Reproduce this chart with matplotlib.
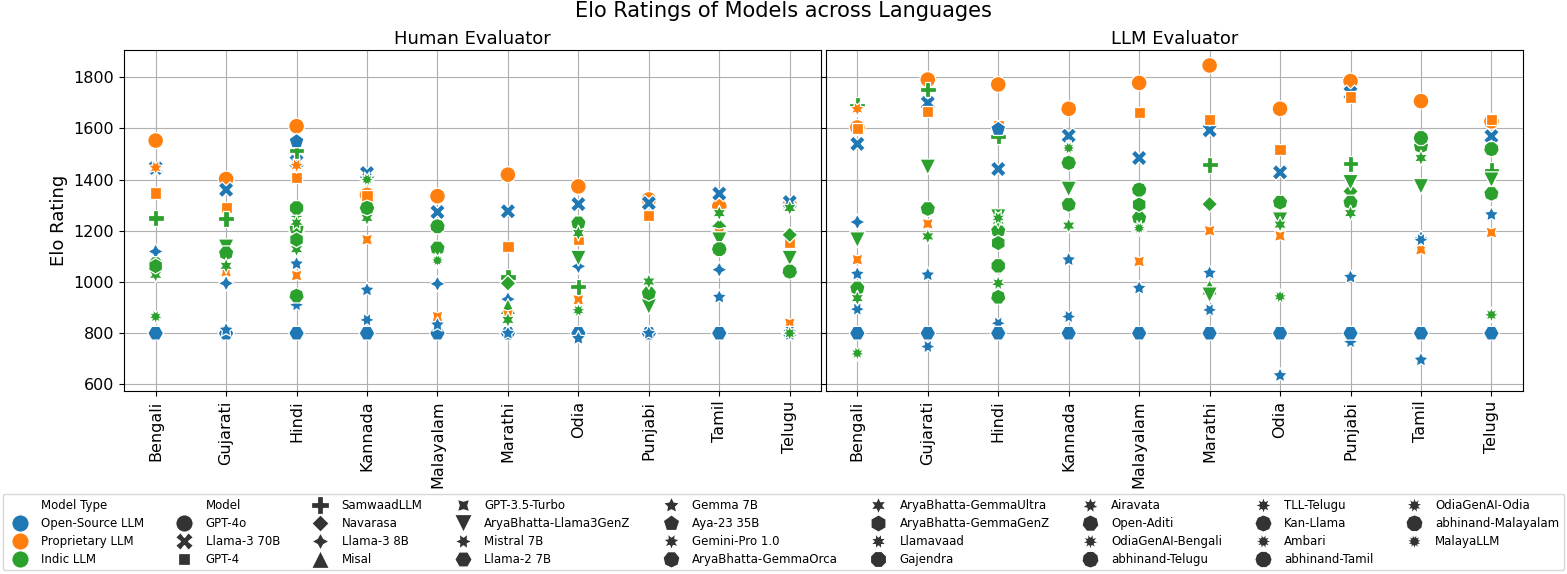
import numpy as np
import pandas as pd
import matplotlib
matplotlib.use("Agg")
import matplotlib.pyplot as plt
import seaborn as sns

nan = np.nan

languages = ["Bengali", "Gujarati", "Hindi", "Kannada", "Malayalam",
             "Marathi", "Odia", "Punjabi", "Tamil", "Telugu"]

models = ["GPT-4o", "Llama-3 70B", "GPT-4", "SamwaadLLM", "Navarasa",
          "Llama-3 8B", "Misal", "GPT-3.5-Turbo", "AryaBhatta-Llama3GenZ",
          "Mistral 7B", "Llama-2 7B", "Gemma 7B", "Aya-23 35B",
          "Gemini-Pro 1.0", "AryaBhatta-GemmaOrca", "AryaBhatta-GemmaUltra",
          "AryaBhatta-GemmaGenZ", "Llamavaad", "Gajendra", "Airavata",
          "Open-Aditi", "OdiaGenAI-Bengali", "abhinand-Telugu", "TLL-Telugu",
          "Kan-Llama", "Ambari", "abhinand-Tamil", "OdiaGenAI-Odia",
          "abhinand-Malayalam", "MalayaLLM"]

model_types = ["Proprietary LLM", "Open-Source LLM", "Proprietary LLM", "Indic LLM",
               "Indic LLM", "Open-Source LLM", "Indic LLM", "Proprietary LLM",
               "Indic LLM", "Open-Source LLM", "Open-Source LLM", "Open-Source LLM",
               "Open-Source LLM", "Proprietary LLM", "Indic LLM", "Indic LLM",
               "Indic LLM", "Indic LLM", "Indic LLM", "Indic LLM", "Indic LLM",
               "Indic LLM", "Indic LLM", "Indic LLM", "Indic LLM", "Indic LLM",
               "Indic LLM", "Indic LLM", "Indic LLM", "Indic LLM"]

type_order = ["Open-Source LLM", "Proprietary LLM", "Indic LLM"]

# rows follow `models`, columns follow `languages`
human_elo = [
    [1552, 1402, 1608, 1340, 1335, 1419, 1373, 1322, 1295, 1300],  # GPT-4o
    [1445, 1360, 1470, 1425, 1273, 1276, 1304, 1308, 1345, 1312],  # Llama-3 70B
    [1347, 1290, 1408, 1336, nan, 1139, 1167, 1259, nan, 1154],    # GPT-4
    [1250, 1247, 1512, nan, nan, 1020, 982, nan, nan, nan],        # SamwaadLLM
    [nan, nan, 1200, nan, nan, 995, nan, nan, 1217, 1184],         # Navarasa
    [1119, 995, nan, nan, 993, 933, 1061, nan, 1048, nan],         # Llama-3 8B
    [nan, nan, nan, nan, nan, 904, nan, nan, nan, nan],            # Misal
    [nan, 1040, 1025, 1165, 865, 872, 930, nan, 1191, 839],        # GPT-3.5-Turbo
    [nan, 1137, nan, nan, nan, nan, 1093, 904, 1165, 1093],        # AryaBhatta-Llama3GenZ
    [800, 800, 911, 852, 800, 800, 800, 800, 800, 800],            # Mistral 7B
    [800, 800, 800, 800, 800, 800, 800, 800, 800, 800],            # Llama-2 7B
    [nan, 813, 1071, 969, 833, 800, 780, 800, 941, 795],           # Gemma 7B
    [nan, nan, 1549, nan, nan, nan, nan, nan, nan, nan],           # Aya-23 35B
    [1447, nan, 1455, nan, nan, nan, nan, nan, nan, nan],          # Gemini-Pro 1.0
    [1071, 1113, 1210, nan, 1132, nan, 1230, 956, nan, nan],       # AryaBhatta-GemmaOrca
    [1028, 1063, 1128, 1250, nan, 852, 1191, 1002, 1269, 1289],    # AryaBhatta-GemmaUltra
    [1062, nan, 1165, nan, nan, nan, nan, nan, nan, nan],          # AryaBhatta-GemmaGenZ
    [nan, nan, 1262, nan, nan, nan, nan, nan, nan, nan],           # Llamavaad
    [nan, nan, 1289, nan, nan, nan, nan, nan, nan, nan],           # Gajendra
    [nan, nan, 1230, nan, nan, nan, nan, nan, nan, nan],           # Airavata
    [nan, nan, 946, nan, nan, nan, nan, nan, nan, nan],            # Open-Aditi
    [865, nan, nan, nan, nan, nan, nan, nan, nan, nan],            # OdiaGenAI-Bengali
    [nan, nan, nan, nan, nan, nan, nan, nan, nan, 1041],           # abhinand-Telugu
    [nan, nan, nan, nan, nan, nan, nan, nan, nan, 800],            # TLL-Telugu
    [nan, nan, nan, 1289, nan, nan, nan, nan, nan, nan],           # Kan-Llama
    [nan, nan, nan, 1400, nan, nan, nan, nan, nan, nan],           # Ambari
    [nan, nan, nan, nan, nan, nan, nan, nan, 1128, nan],           # abhinand-Tamil
    [nan, nan, nan, nan, nan, nan, 889, nan, nan, nan],            # OdiaGenAI-Odia
    [nan, nan, nan, nan, 1217, nan, nan, nan, nan, nan],           # abhinand-Malayalam
    [nan, nan, nan, nan, 1084, nan, nan, nan, nan, nan],           # MalayaLLM
]

llm_elo = [
    [1603, 1790, 1771, 1676, 1777, 1845, 1676, 1784, 1706, 1627],  # GPT-4o
    [1539, 1699, 1441, 1571, 1484, 1592, 1428, 1738, nan, 1569],   # Llama-3 70B
    [1600, 1666, 1610, nan, 1660, 1634, 1517, 1722, nan, 1634],    # GPT-4
    [1690, 1751, 1569, nan, nan, 1458, nan, 1462, nan, 1436],      # SamwaadLLM
    [nan, nan, nan, nan, nan, 1304, nan, 1354, nan, nan],          # Navarasa
    [1234, nan, nan, nan, nan, nan, nan, nan, 1171, nan],          # Llama-3 8B
    [nan, nan, nan, nan, nan, 980, nan, nan, nan, nan],            # Misal
    [1087, 1227, nan, nan, 1080, 1200, 1180, nan, 1126, 1193],     # GPT-3.5-Turbo
    [1165, 1449, 1255, 1363, nan, 950, 1243, 1389, 1373, 1399],    # AryaBhatta-Llama3GenZ
    [894, 748, 839, 865, nan, 891, nan, 767, 1165, nan],           # Mistral 7B
    [800, 800, 800, 800, 800, 800, 800, 800, 800, 800],            # Llama-2 7B
    [1031, 1028, nan, 1087, 976, 1035, 635, 1019, 696, 1263],      # Gemma 7B
    [nan, nan, 1597, nan, nan, nan, nan, nan, nan, nan],           # Aya-23 35B
    [1676, nan, nan, nan, nan, nan, nan, nan, nan, nan],           # Gemini-Pro 1.0
    [976, 1286, 1200, 1302, 1250, nan, 1311, 1311, 1530, 1345],    # AryaBhatta-GemmaOrca
    [937, 1178, 1240, 1220, nan, nan, 1224, 1269, 1484, nan],      # AryaBhatta-GemmaUltra
    [nan, nan, 1152, nan, 1302, nan, nan, nan, nan, nan],          # AryaBhatta-GemmaGenZ
    [nan, nan, 1250, nan, nan, nan, nan, nan, nan, nan],           # Llamavaad
    [nan, nan, 1063, nan, nan, nan, nan, nan, nan, nan],           # Gajendra
    [nan, nan, 995, nan, nan, nan, nan, nan, nan, nan],            # Airavata
    [nan, nan, 941, nan, nan, nan, nan, nan, nan, nan],            # Open-Aditi
    [722, nan, nan, nan, nan, nan, nan, nan, nan, nan],            # OdiaGenAI-Bengali
    [nan, nan, nan, nan, nan, nan, nan, nan, nan, 1519],           # abhinand-Telugu
    [nan, nan, nan, nan, nan, nan, nan, nan, nan, 872],            # TLL-Telugu
    [nan, nan, nan, 1465, nan, nan, nan, nan, nan, nan],           # Kan-Llama
    [nan, nan, nan, 1523, nan, nan, nan, nan, nan, nan],           # Ambari
    [nan, nan, nan, nan, nan, nan, nan, nan, 1562, nan],           # abhinand-Tamil
    [nan, nan, nan, nan, nan, nan, 943, nan, nan, nan],            # OdiaGenAI-Odia
    [nan, nan, nan, nan, 1360, nan, nan, nan, nan, nan],           # abhinand-Malayalam
    [nan, nan, nan, nan, 1210, nan, nan, nan, nan, nan],           # MalayaLLM
]

panel_titles = ["Human Evaluator", "LLM Evaluator"]


def long_table(elo):
    rows = []
    for li, lang in enumerate(languages):
        for mi, m in enumerate(models):
            v = elo[mi][li]
            if not np.isnan(v):
                rows.append({"Language": lang, "Elo Rating": v,
                             "Model Type": model_types[mi], "Model": m})
    return pd.DataFrame(rows)


fig, axes = plt.subplots(1, 2, figsize=(15.67, 5.74), dpi=100, sharey=True)
fig.subplots_adjust(left=0.0791, right=0.972, bottom=0.3188, top=0.9129, wspace=0.006)

for i, (ax, elo) in enumerate(zip(axes, [human_elo, llm_elo])):
    df = long_table(elo)
    sns.scatterplot(data=df, x="Language", y="Elo Rating", hue="Model Type",
                    style="Model", hue_order=type_order, style_order=models,
                    s=130, ax=ax, legend="full" if i == 0 else False)
    ax.set_title(panel_titles[i], fontsize=13, pad=4)
    ax.grid(True)
    ax.set_axisbelow(True)
    ax.set_xlabel("")
    ax.tick_params(axis="x", rotation=90, labelsize=11.5)
    ax.tick_params(axis="y", labelsize=11.5)
    if i == 0:
        ax.set_ylabel("Elo Rating", fontsize=13)
    else:
        ax.set_ylabel("")

handles, labels = axes[0].get_legend_handles_labels()
axes[0].get_legend().remove()
fig.legend(handles, labels, loc="lower center", bbox_to_anchor=(0.5, -0.004),
           ncol=9, fontsize=8.5, markerscale=1.1, columnspacing=2.42,
           handletextpad=0.8, labelspacing=0.42)

fig.suptitle("Elo Ratings of Models across Languages", fontsize=15, y=0.998)
fig.savefig("out.png", dpi=100)
